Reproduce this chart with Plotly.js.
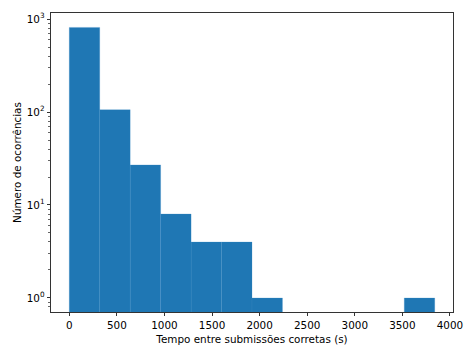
<!DOCTYPE html>
<html>
<head>
<meta charset="utf-8">
<script src="https://cdn.plot.ly/plotly-3.0.1.min.js"></script>
<style>html,body{margin:0;padding:0;background:#fff;}</style>
</head>
<body>
<div id="chart" style="width:474px;height:355px;"></div>
<script>
// Histogram data: bins start at 0, each 320 s wide
const binStart = 0;
const binWidth = 320;
const counts = [813, 106, 27, 8, 4, 4, 1, 0, 0, 0, 0, 1];
const xTicks = [0, 500, 1000, 1500, 2000, 2500, 3000, 3500, 4000];
const yTickVals = [1, 10, 100, 1000];
const yTickText = ['10<sup>0</sup>', '10<sup>1</sup>', '10<sup>2</sup>', '10<sup>3</sup>'];
const xTitle = 'Tempo entre submissões corretas (s)';
const yTitle = 'Número de ocorrências';

const centers = counts.map((c, i) => binStart + binWidth * (i + 0.5));
const minorVals = [];
[0.1, 1, 10, 100].forEach(d => { for (let k = 2; k <= 9; k++) minorVals.push(k * d); });

const trace = {
  type: 'bar',
  x: centers,
  y: counts.map(c => c > 0 ? c : null),
  width: binWidth,
  marker: {color: '#1f77b4', line: {color: 'rgba(60,140,200,0.6)', width: 0.4}},
  hoverinfo: 'x+y'
};

const layout = {
  width: 474, height: 355,
  margin: {l: 51, r: 21, t: 13, b: 43},
  paper_bgcolor: '#fff', plot_bgcolor: '#fff',
  font: {family: 'DejaVu Sans', size: 10.4, color: '#000'},
  showlegend: false,
  bargap: 0,
  xaxis: {
    range: [-192, 4032],
    tickvals: xTicks,
    ticktext: xTicks.map(String),
    ticks: 'outside', ticklen: 3.5, tickwidth: 0.8, tickcolor: '#000',
    showline: true, linecolor: '#000', linewidth: 0.8, mirror: true,
    showgrid: false, zeroline: false,
    title: {text: xTitle, font: {family: 'DejaVu Sans', size: 10.4}, standoff: 5}
  },
  yaxis: {
    type: 'log',
    range: [-0.151, 3.065],
    tickvals: yTickVals,
    ticktext: yTickText,
    ticks: 'outside', ticklen: 3.5, tickwidth: 0.8, tickcolor: '#000',
    showline: true, linecolor: '#000', linewidth: 0.8, mirror: true,
    showgrid: false, zeroline: false,
    minor: {tickvals: minorVals, ticks: 'outside', ticklen: 2, tickwidth: 0.6, tickcolor: '#000', showgrid: false},
    title: {text: yTitle, font: {family: 'DejaVu Sans', size: 10.4}, standoff: 3}
  }
};

Plotly.newPlot('chart', [trace], layout, {displayModeBar: false, staticPlot: true});
</script>
</body>
</html>
